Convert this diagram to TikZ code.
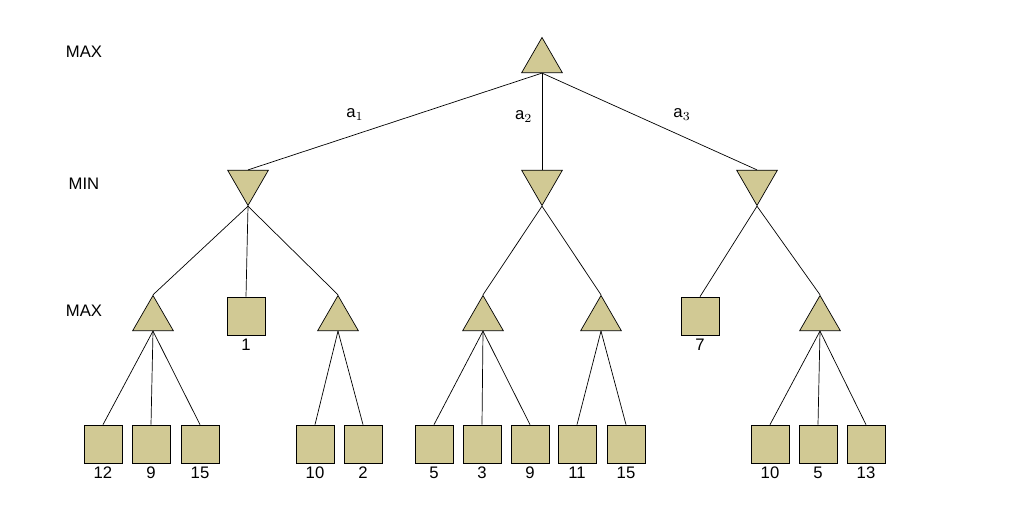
\documentclass[tikz,border=0pt]{standalone}
\usepackage{fontspec}
\setmainfont{Liberation Sans}
\usetikzlibrary{shapes.geometric,positioning}
\definecolor{khaki}{RGB}{209,201,148}
\begin{document}
\begin{tikzpicture}[x=0.02cm,y=-0.02cm,font=\fontsize{9.5}{11}\selectfont]
\tikzstyle{maxnode} = [regular polygon, regular polygon sides=3, draw, fill=khaki, minimum size=0.94cm, inner sep=0pt]
\tikzstyle{minnode} = [maxnode, shape border rotate=180]
\tikzstyle{leaf} = [rectangle, draw, fill=khaki, minimum size=0.76cm, inner sep=0pt]
\tikzstyle{val} = [below=1pt, inner sep=1pt]
\tikzstyle{line} = [draw, thin]
\useasboundingbox (0,0) rectangle (1024,516);

% level labels
\node at (84,52) {MAX};
\node at (84,184) {MIN};
\node at (84,311) {MAX};

% root and MIN level
\node [maxnode] (root) at (542,61) {};
\node [minnode] (m1) at (248,182) {};
\node [minnode] (m2) at (542,182) {};
\node [minnode] (m3) at (757,182) {};

% MAX level
\node [maxnode] (x1) at (153,319) {};
\node [leaf] (s1) at (246,316) {};
\node [val] at (s1.south) {1};
\node [maxnode] (x2) at (338,319) {};
\node [maxnode] (x3) at (483,319) {};
\node [maxnode] (x4) at (601,319) {};
\node [leaf] (s7) at (700,316) {};
\node [val] at (s7.south) {7};
\node [maxnode] (x5) at (820,319) {};

% leaves
\foreach \name/\x/\v in {l1/103/12, l2/151/9, l3/200/15, l4/315/10, l5/363/2,
  l6/434/5, l7/482/3, l8/530/9, l9/577/11, l10/626/15, l11/770/10, l12/818/5, l13/866/13}
{
  \node [leaf] (\name) at (\x,444) {};
  \node [val] at (\name.south) {\v};
}

% Connections
\draw [line] (root.south) -- node [above left=0pt and 6pt, pos=0.55] {a$_1$} (m1.north);
\draw [line] (root.south) -- node [left=2pt, pos=0.45] {a$_2$} (m2.north);
\draw [line] (root.south) -- node [above right=0pt and 4pt, pos=0.55] {a$_3$} (m3.north);
\draw [line] (m1.corner 1) -- (x1.corner 1);
\draw [line] (m1.corner 1) -- (s1.north);
\draw [line] (m1.corner 1) -- (x2.corner 1);
\draw [line] (m2.corner 1) -- (x3.corner 1);
\draw [line] (m2.corner 1) -- (x4.corner 1);
\draw [line] (m3.corner 1) -- (s7.north);
\draw [line] (m3.corner 1) -- (x5.corner 1);
\foreach \p/\c in {x1/l1, x1/l2, x1/l3, x2/l4, x2/l5, x3/l6, x3/l7, x3/l8,
  x4/l9, x4/l10, x5/l11, x5/l12, x5/l13}
  \draw [line] (\p.south) -- (\c.north);

\end{tikzpicture}
\end{document}
